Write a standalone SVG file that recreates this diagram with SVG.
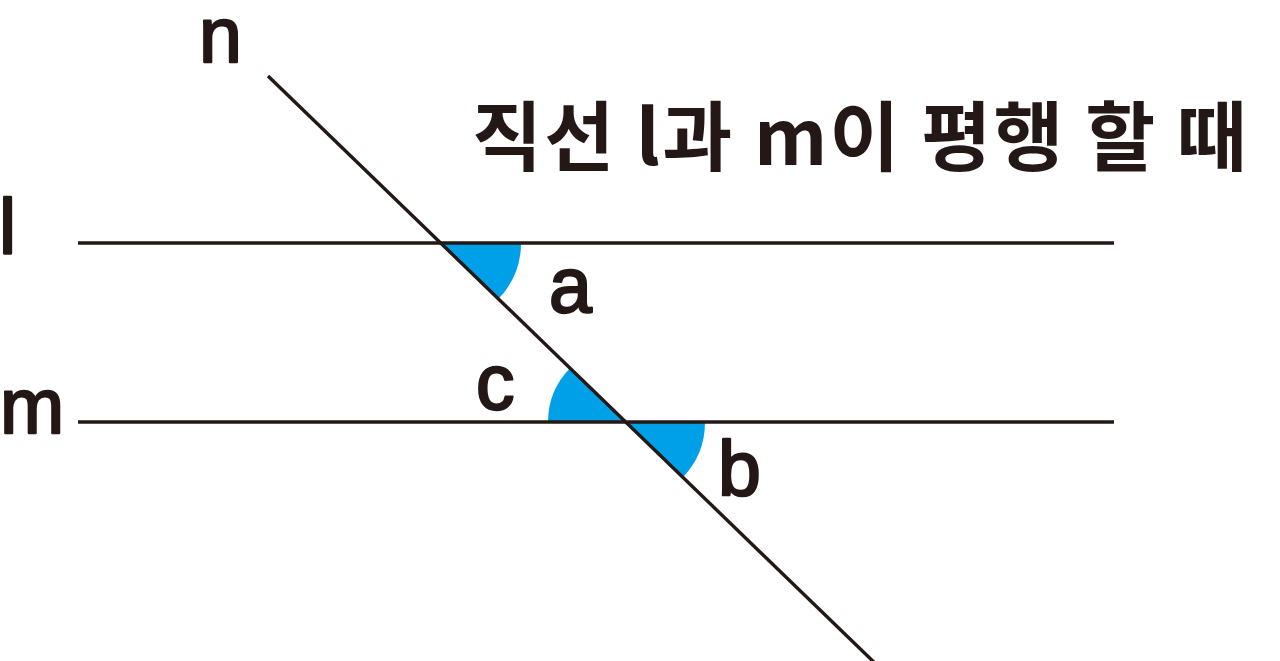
<svg xmlns="http://www.w3.org/2000/svg" width="1280" height="661" viewBox="0 0 1280 661">
<style>
.ln{stroke:#231815;stroke-width:3.4;fill:none}
.ang{fill:#00a0e9}
.lbl{font-family:"Liberation Sans",Arial,sans-serif;font-size:77px;fill:#231815;stroke:#231815;stroke-width:2.4;stroke-linejoin:round}
.ttl{font-family:"Noto Sans CJK KR","Liberation Sans",sans-serif;font-size:76px;font-weight:700;fill:#231815}
</style>
<rect width="1280" height="661" fill="#ffffff"/>
<g id="angles">
<path class="ang" d="M441,243 L521,243 A80,80 0 0 1 498.5,298.7 Z"/>
<path class="ang" d="M625,422 L705,422 A80,80 0 0 1 682.5,477.7 Z"/>
<path class="ang" d="M625,422 L548,422 A77,77 0 0 1 569.7,368.4 Z"/>
</g>
<g id="connectors">
<line id="line-l" class="ln" x1="78" y1="243" x2="1114" y2="243"/>
<line id="line-m" class="ln" x1="78" y1="422" x2="1114" y2="422"/>
<line id="line-n" class="ln" x1="268" y1="76" x2="880" y2="668"/>
</g>
<g id="labels">
<text class="lbl" x="199" y="62">n</text>
<text class="lbl" x="-1" y="254">l</text>
<text class="lbl" x="0" y="433">m</text>
<text class="lbl" x="549" y="312">a</text>
<text class="lbl" x="476" y="409">c</text>
<text class="lbl" x="718" y="496">b</text>
</g>
<g id="title">
<text class="ttl" x="472" y="165" textLength="775" lengthAdjust="spacing">직선 l과 m이 평행 할 때</text>
</g>
</svg>
